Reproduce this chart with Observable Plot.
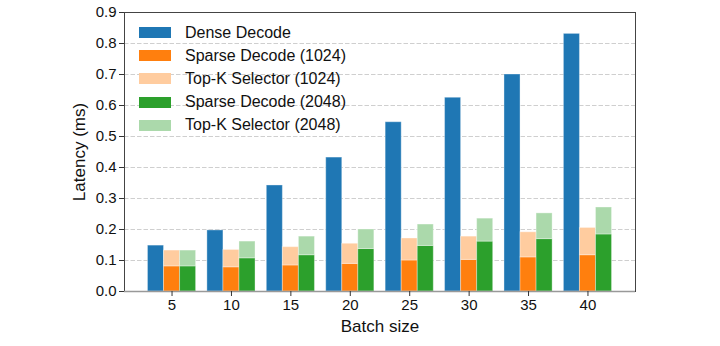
<!DOCTYPE html>
<html>
<head>
<meta charset="utf-8">
<script src="https://cdn.jsdelivr.net/npm/d3@7"></script>
<script src="https://cdn.jsdelivr.net/npm/@observablehq/plot@0.6"></script>
<style>
  html, body { margin: 0; padding: 0; background: #fff; }
  #wrap { position: relative; width: 720px; height: 346px; font-family: "Liberation Sans", Arial, Helvetica, sans-serif; }
  #legend { position: absolute; left: 139px; top: 21px; font-size: 16px; color: #111; }
  .row { display: flex; align-items: center; height: 23.2px; }
  .sw { width: 32px; height: 11px; margin-right: 14px; }
</style>
</head>
<body>
<div id="wrap"></div>
<script>
const batchSizes = [5, 10, 15, 20, 25, 30, 35, 40];
const denseDecode      = [0.148, 0.197, 0.342, 0.432, 0.546, 0.625, 0.700, 0.831];
const sparseDecode1024 = [0.081, 0.078, 0.084, 0.089, 0.100, 0.102, 0.110, 0.117];
const topKSelector1024 = [0.051, 0.056, 0.059, 0.065, 0.071, 0.075, 0.081, 0.088];
const sparseDecode2048 = [0.081, 0.107, 0.117, 0.137, 0.147, 0.161, 0.169, 0.184];
const topKSelector2048 = [0.051, 0.054, 0.060, 0.063, 0.069, 0.074, 0.083, 0.087];
const yTicks = [0, 0.1, 0.2, 0.3, 0.4, 0.5, 0.6, 0.7, 0.8, 0.9];
const gridTicks = [0.1, 0.2, 0.3, 0.4, 0.5, 0.6, 0.7, 0.8];

const seriesNames = ["Dense Decode", "Sparse Decode (1024)", "Top-K Selector (1024)", "Sparse Decode (2048)", "Top-K Selector (2048)"];
const seriesColors = ["#1f77b4", "#ff7f0e", "#ffcc9f", "#2ca02c", "#abd9ab"];

const barW = 0.27;
const rows = [];
batchSizes.forEach((b, i) => {
  rows.push({i, slot: -1, s: seriesNames[0], y1: 0, y2: denseDecode[i]});
  rows.push({i, slot: 0, s: seriesNames[1], y1: 0, y2: sparseDecode1024[i]});
  rows.push({i, slot: 0, s: seriesNames[2], y1: sparseDecode1024[i], y2: sparseDecode1024[i] + topKSelector1024[i]});
  rows.push({i, slot: 1, s: seriesNames[3], y1: 0, y2: sparseDecode2048[i]});
  rows.push({i, slot: 1, s: seriesNames[4], y1: sparseDecode2048[i], y2: sparseDecode2048[i] + topKSelector2048[i]});
});

const chart = Plot.plot({
  width: 720,
  height: 346,
  marginLeft: 124,
  marginRight: 85,
  marginTop: 12,
  marginBottom: 55,
  style: { fontFamily: "'Liberation Sans', Arial, Helvetica, sans-serif", fontSize: "15px", color: "#111", background: "#fff" },
  x: { domain: [-0.8, 7.8] },
  y: { domain: [0, 0.9] },
  color: { domain: seriesNames, range: seriesColors },
  marks: [
    Plot.ruleY(gridTicks, { stroke: "#cfcfcf", strokeWidth: 1, strokeDasharray: "4.5,2" }),
    Plot.rectY(rows, {
      x1: d => d.i + d.slot * barW - barW / 2,
      x2: d => d.i + d.slot * barW + barW / 2,
      y1: "y1", y2: "y2",
      fill: "s",
      stroke: "white", strokeOpacity: 0.35, strokeWidth: 1
    }),
    Plot.frame({ stroke: "#444", strokeWidth: 1 }),
    Plot.ruleY([0], { stroke: "#999", strokeWidth: 1.5 }),
    Plot.axisX(d3.range(batchSizes.length), {
      tickFormat: i => batchSizes[i], tickSize: 5, tickPadding: 3, fontSize: 15,
      stroke: "#333", label: "Batch size", labelAnchor: "center", labelArrow: "none", labelOffset: 40
    }),
    Plot.axisY(yTicks, {
      tickFormat: d => d.toFixed(1), tickSize: 5, tickPadding: 3, fontSize: 15,
      stroke: "#333", label: "Latency (ms)", labelAnchor: "center", labelArrow: "none", labelOffset: 52
    })
  ]
});
chart.querySelectorAll("g[aria-label='x-axis tick label'], g[aria-label='y-axis tick label']").forEach(g => {
  g.setAttribute("font-size", "15");
  g.querySelectorAll("text").forEach(t => t.setAttribute("font-size", "15"));
});
chart.querySelectorAll("g[aria-label='x-axis label'] text, g[aria-label='y-axis label'] text").forEach(t => t.setAttribute("font-size", "17"));
const wrap = document.getElementById("wrap");
wrap.appendChild(chart);

const legend = document.createElement("div");
legend.id = "legend";
seriesNames.forEach((n, k) => {
  const r = document.createElement("div");
  r.className = "row";
  const sw = document.createElement("div");
  sw.className = "sw";
  sw.style.background = seriesColors[k];
  const t = document.createElement("span");
  t.textContent = n;
  r.appendChild(sw); r.appendChild(t);
  legend.appendChild(r);
});
wrap.appendChild(legend);
</script>
</body>
</html>
